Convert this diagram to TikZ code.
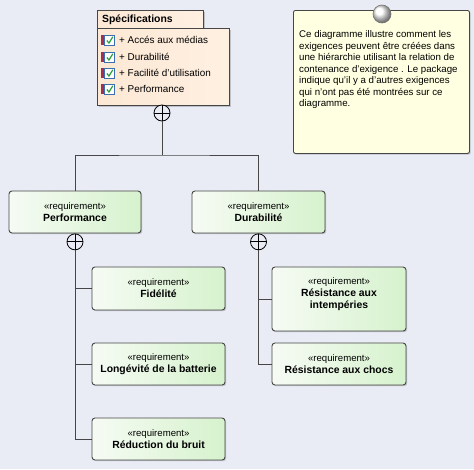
\documentclass[tikz,border=0pt]{standalone}
\usepackage{fontspec}
\setmainfont{Liberation Sans}
\usetikzlibrary{shadows}
\definecolor{bg}{RGB}{233,236,245}
\definecolor{boxline}{RGB}{70,70,70}
\definecolor{reqL}{RGB}{246,251,244}
\definecolor{reqR}{RGB}{214,242,205}
\definecolor{pkgL}{RGB}{252,232,212}
\definecolor{pkgR}{RGB}{255,240,226}
\definecolor{notefill}{RGB}{255,255,225}
\definecolor{chkred}{RGB}{160,50,80}
\definecolor{chkblue}{RGB}{60,110,180}
\definecolor{chkgreen}{RGB}{40,160,60}
\newcommand\reqst{\fontsize{9.6}{12}\selectfont}
\newcommand\reqnm{\fontsize{10.4}{12.5}\selectfont\bfseries}
\tikzset{
  conn/.style={draw=boxline, line width=0.9pt},
  shad/.style={drop shadow={shadow xshift=1.2pt, shadow yshift=-1.2pt, fill=black, opacity=0.18}},
  req/.style={draw=boxline, line width=0.9pt, rounded corners=3pt, left color=reqL, right color=reqR,
    minimum width=133pt, minimum height=42pt, align=center, inner sep=2pt, shad},
  pkgbox/.style={draw=boxline, line width=0.9pt, left color=pkgL, right color=pkgR, inner sep=0pt, shad},
  item/.style={anchor=west, inner sep=0pt, font=\fontsize{9.9}{12}\selectfont},
  plusc/.style={circle, draw=black, line width=0.8pt, fill=bg, minimum size=16pt, inner sep=0pt,
    path picture={\draw[black, line width=0.8pt] (path picture bounding box.north) -- (path picture bounding box.south)
      (path picture bounding box.west) -- (path picture bounding box.east);}},
  chk/.pic={
    \fill[chkred] (0,-5) rectangle (3.5,5);
    \draw[chkblue, fill=white, line width=0.7pt] (3.5,-5) rectangle (13.5,5);
    \draw[chkgreen, line width=1.2pt] (5.8,0.5) -- (8,3) -- (11.8,-3.2);
  }
}
\begin{document}
\begin{tikzpicture}[x=1pt,y=-1pt]
\useasboundingbox (0,0) rectangle (474,469);
\fill[bg] (0,0) rectangle (474,469);

% package
\node[pkgbox, anchor=north west, minimum width=106pt, minimum height=18pt] (tab) at (97,10) {};
\node[pkgbox, anchor=north west, minimum width=132pt, minimum height=77pt] (pkg) at (97,28) {};
\node[anchor=west, inner sep=0pt, font=\fontsize{10.4}{12}\selectfont\bfseries] (spec) at (102,19.5) {Spécifications};
\pic at (101,40) {chk};
\pic at (101,57) {chk};
\pic at (101,73) {chk};
\pic at (101,89) {chk};
\node[item] (i1) at (119,40) {+ Accés aux médias};
\node[item] (i2) at (119,57) {+ Durabilité};
\node[item] (i3) at (119,73) {+ Facilité d'utilisation};
\node[item] (i4) at (119,89) {+ Performance};
\node[plusc] (pkgc) at (162,113) {};

% note
\node[draw=boxline, line width=0.9pt, fill=notefill, rounded corners=2pt, anchor=north west,
  minimum width=176pt, minimum height=143pt, inner sep=0pt, shad] (note) at (293,10) {};
\node[circle, minimum size=18pt, draw=gray!90!black, line width=0.6pt, shading=ball, ball color=white, inner sep=0pt] (knob) at (382,14) {};
\node[anchor=north west, align=left, inner sep=0pt, font=\fontsize{9.7}{11.5}\selectfont] (notetext) at (299,30.5)
{Ce diagramme illustre comment les\\exigences peuvent être créées dans\\une hiérarchie utilisant la relation de\\contenance d'exigence . Le package\\indique qu'il y a d'autres exigences\\qui n'ont pas été montrées sur ce\\diagramme.};

% requirements
\node[req, minimum width=132pt] (perf) at (75,212) {{\reqst «requirement»}\\{\reqnm Performance}};
\node[req] (dura) at (258.5,212) {{\reqst «requirement»}\\{\reqnm Durabilité}};
\node[req, minimum height=43pt] (fid) at (158.5,288.5) {{\reqst «requirement»}\\{\reqnm Fidélité}};
\node[req] (lon) at (158.5,364) {{\reqst «requirement»}\\{\reqnm Longévité de la batterie}};
\node[req] (red) at (158.5,439) {{\reqst «requirement»}\\{\reqnm Réduction du bruit}};
\node[req, minimum width=134pt, minimum height=64pt, text depth=12pt] (rint) at (339,299) {{\reqst «requirement»}\\{\reqnm Résistance aux}\\{\reqnm intempéries}};
\node[req, minimum width=134pt] (rcho) at (339,364) {{\reqst «requirement»}\\{\reqnm Résistance aux chocs}};

\node[plusc, anchor=north] (pc1) at (perf.south) {};
\node[plusc, anchor=north] (dc1) at (dura.south) {};

% connectors
\coordinate (j1) at (162,155);
\draw[conn] (pkgc.south) -- (j1);
\draw[conn] (perf.north) |- (j1) -| (dura.north);
\draw[conn] (pc1.south) |- (fid.west);
\draw[conn] (pc1.south) |- (lon.west);
\draw[conn] (pc1.south) |- (red.west);
\draw[conn] (dc1.south) |- (rint.west);
\draw[conn] (dc1.south) |- (rcho.west);
\end{tikzpicture}
\end{document}
